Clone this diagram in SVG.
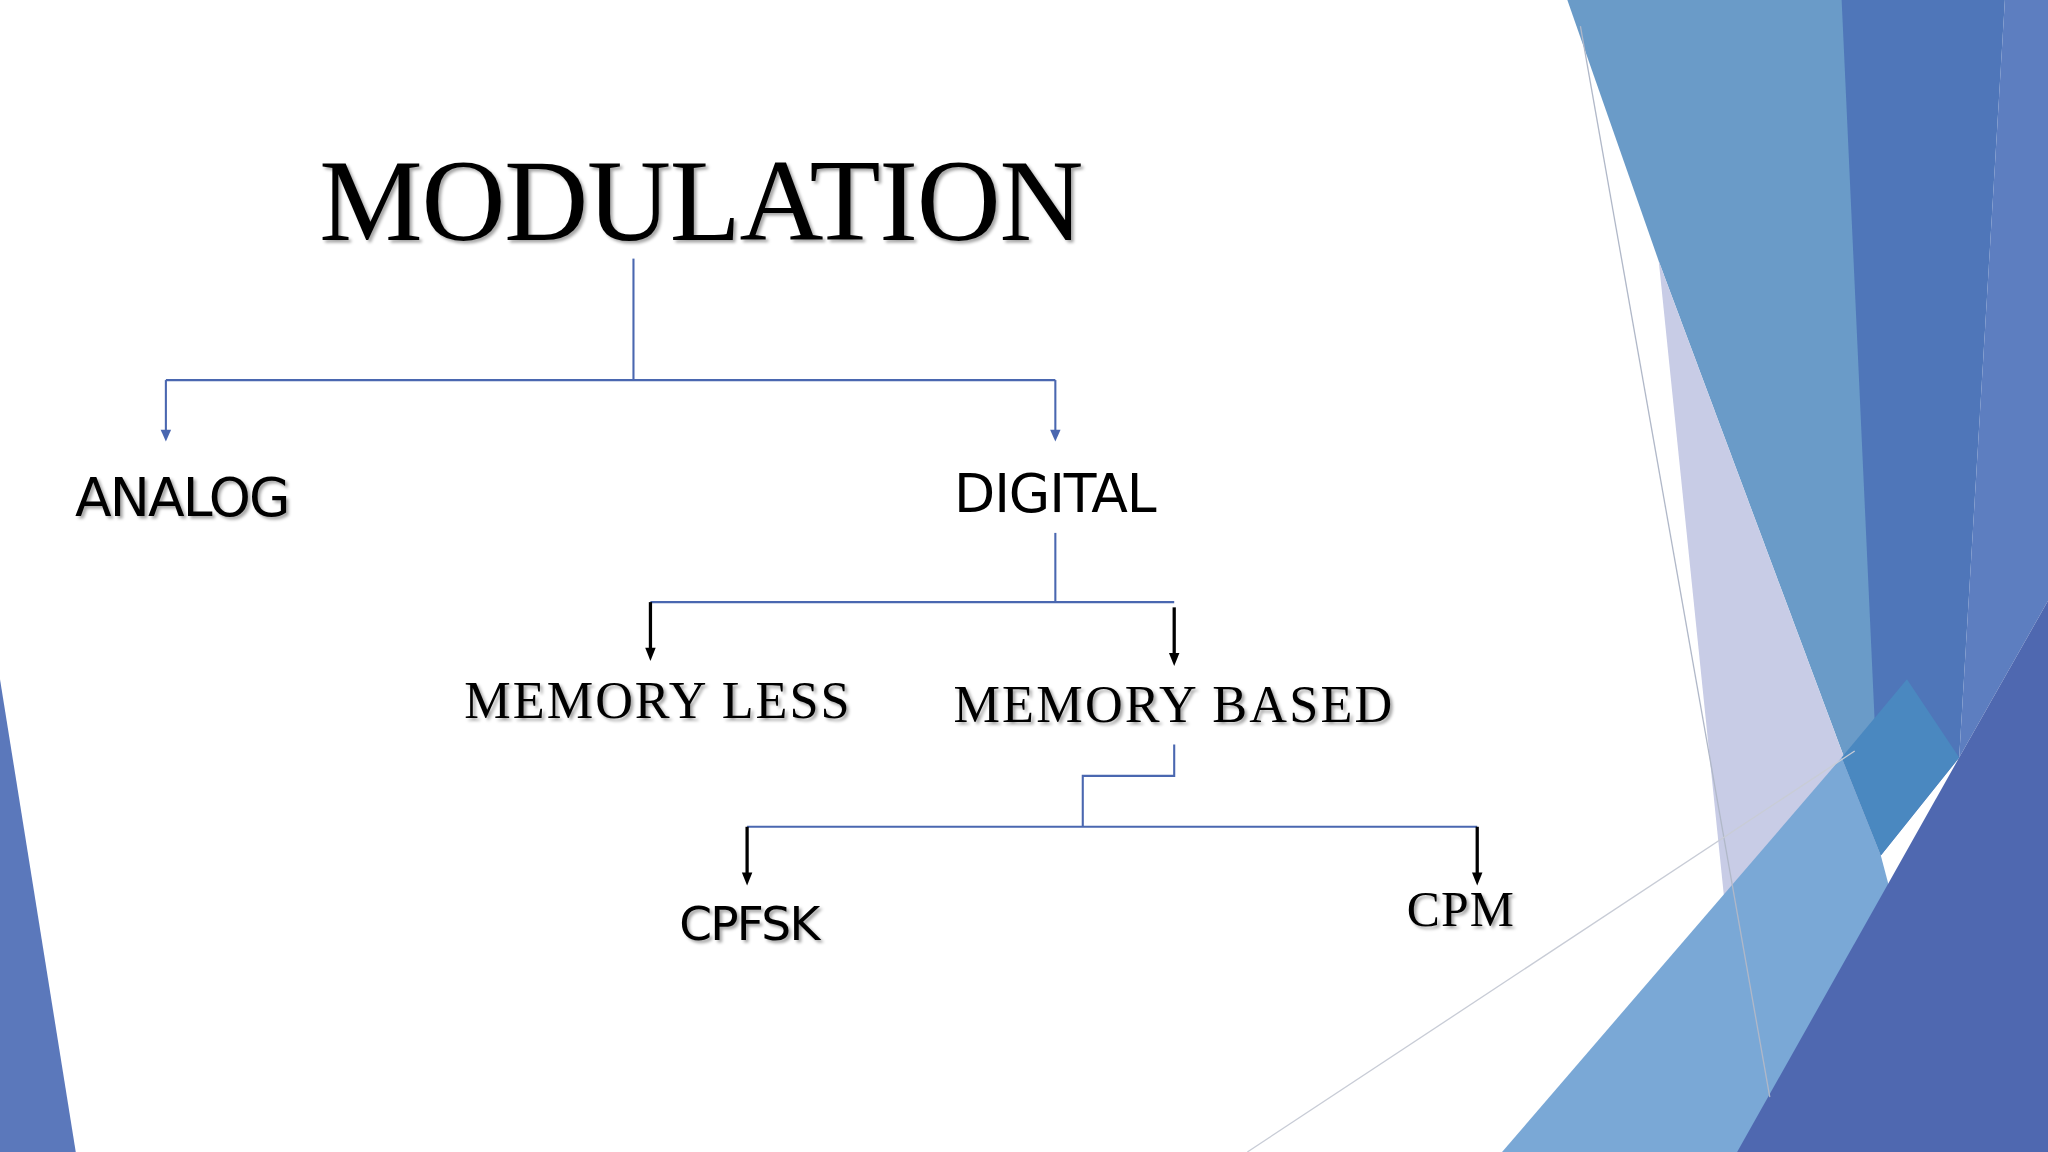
<svg xmlns="http://www.w3.org/2000/svg" width="2048" height="1152" viewBox="0 0 2048 1152">
<defs>
<style>
.ln{stroke:#4a67b0;stroke-width:1.6;fill:none}
.bk{stroke:#000;stroke-width:2.5;fill:none}
.serif{font-family:"Liberation Serif",serif;fill:#000}
.sans{font-family:"DejaVu Sans","Liberation Sans",sans-serif;fill:#000}
.sh{filter:url(#sh)}
</style>
<filter id="sh" x="-5%" y="-20%" width="110%" height="140%"><feDropShadow dx="2" dy="2" stdDeviation="1.2" flood-color="#000" flood-opacity="0.35"/></filter>
<marker id="ab" viewBox="0 0 10 10" refX="5" refY="9" markerWidth="5" markerHeight="6" orient="auto-start-reverse" markerUnits="userSpaceOnUse"><path d="M0,0 L10,0 L5,10 Z" fill="#4a67b0" transform="rotate(-90 5 5)"/></marker>
</defs>
<rect width="2048" height="1152" fill="#fff"/>
<g transform="scale(1.30612)">
<g id="background">
<polygon points="0,520 58,882 0,882" fill="#5b78bb"/>
<polygon points="1200,0 1568,0 1568,882 1200,882" fill="none"/>
<polygon points="1200,0 1420,0 1440,655 1270,200" fill="#6a9bc8"/>
<polygon points="1270,200 1440,655 1380,882 1340,882" fill="#c8cce6"/>
<polygon points="1410,0 1535,0 1500,580 1440,655" fill="#4f76b9"/>
<polygon points="1535,0 1568,0 1568,460 1500,580" fill="#5d7ec0"/>
<polygon points="1150,882 1410,580 1440,655 1500,882" fill="#7aa8d6"/>
<polygon points="1330,882 1500,580 1568,460 1568,882" fill="#4f68b0"/>
<polygon points="1410,580 1460,520 1500,580 1440,655" fill="#4a88c0"/>
<line x1="1210" y1="20" x2="1355" y2="840" stroke="#b0b8c8" stroke-width="1"/>
<line x1="955" y1="882" x2="1420" y2="575" stroke="#c8ccd6" stroke-width="1"/>
</g>
<g id="connectors">
<polyline class="ln" points="485,198 485,291"/>
<polyline class="ln" points="127,291 808,291"/>
<line class="ln" x1="127" y1="291" x2="127" y2="331"/>
<path d="M123,329 L131,329 L127,338 Z" fill="#4a67b0"/>
<line class="ln" x1="808" y1="291" x2="808" y2="331"/>
<path d="M804,329 L812,329 L808,338 Z" fill="#4a67b0"/>
<polyline class="ln" points="808,408 808,461"/>
<polyline class="ln" points="498,461 899,461"/>
<line class="bk" x1="498" y1="461" x2="498" y2="498"/>
<path d="M494,496 L502,496 L498,506 Z" fill="#000"/>
<line class="bk" x1="899" y1="465" x2="899" y2="502"/>
<path d="M895,500 L903,500 L899,510 Z" fill="#000"/>
<polyline class="ln" points="899,570 899,594 829,594 829,633"/>
<polyline class="ln" points="572,633 1131,633"/>
<line class="bk" x1="572" y1="633" x2="572" y2="670"/>
<path d="M568,668 L576,668 L572,678 Z" fill="#000"/>
<line class="bk" x1="1131" y1="633" x2="1131" y2="670"/>
<path d="M1127,668 L1135,668 L1131,678 Z" fill="#000"/>
</g>
<g id="modulation"><text class="serif sh" x="537" y="184" font-size="89" text-anchor="middle" textLength="585">MODULATION</text></g>
<g id="analog"><text class="sans sh" x="140" y="395" font-size="41" text-anchor="middle" textLength="165">ANALOG</text></g>
<g id="digital"><text class="sans" x="808" y="392" font-size="41" text-anchor="middle" textLength="155">DIGITAL</text></g>
<g id="memoryless"><text class="serif sh" x="503" y="550" font-size="40" text-anchor="middle" textLength="295">MEMORY LESS</text></g>
<g id="memorybased"><text class="serif sh" x="898" y="553" font-size="40" text-anchor="middle" textLength="336">MEMORY BASED</text></g>
<g id="cpfsk"><text class="sans sh" x="574" y="720" font-size="36" text-anchor="middle" textLength="108">CPFSK</text></g>
<g id="cpm"><text class="serif sh" x="1118" y="709" font-size="38" text-anchor="middle" textLength="82">CPM</text></g>
</g>
</svg>
